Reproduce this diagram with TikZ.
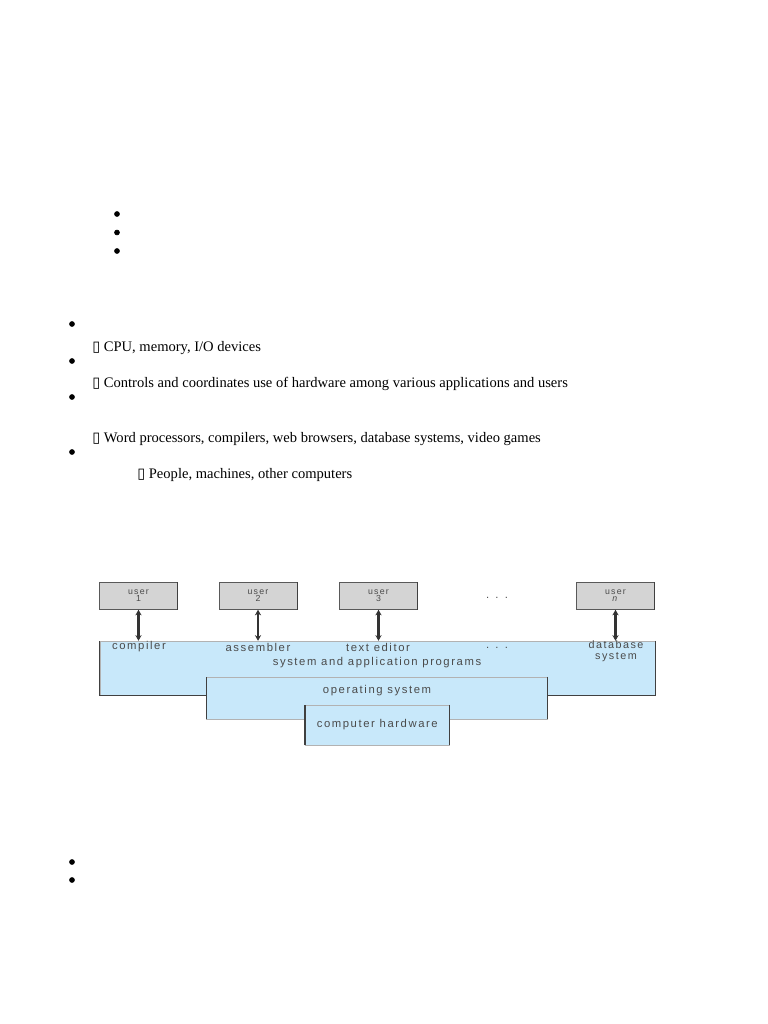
\documentclass[tikz,border=0pt]{standalone}
\usepackage{fontspec}
\setmainfont{Liberation Serif}
\newfontfamily\symfont{DejaVu Sans}
\newfontfamily\diagfont[LetterSpace=14]{Liberation Sans}
\usetikzlibrary{arrows.meta}
\newcommand{\pxu}{0.797pt}
\definecolor{boxblue}{RGB}{200,232,250}
\definecolor{boxgray}{RGB}{212,212,212}
\definecolor{labgray}{RGB}{75,75,75}

\begin{document}
\begin{tikzpicture}[x=0.797pt, y=-0.797pt,
  dot/.style={draw, circle, fill=black, minimum size=4pt, inner sep=0pt},
  line/.style={anchor=base west, inner sep=0pt, font=\fontsize{11.6}{14}\selectfont},
  userbox/.style={draw=gray!70!black, fill=boxgray, minimum width=78*\pxu, minimum height=27*\pxu, inner sep=0pt, align=center, text=labgray, font=\diagfont\fontsize{7}{5.6}\selectfont},
  layer/.style={draw=gray!60, fill=boxblue, inner sep=0pt},
  lab/.style={inner sep=0pt, align=center, text=labgray, font=\diagfont\fontsize{9}{7.2}\selectfont},
  edge/.style={black!75, line width=1.1pt},
  link/.style={{Stealth[length=4.5pt,width=5pt]}-{Stealth[length=4.5pt,width=5pt]}, line width=1.9pt, black!80}]
\useasboundingbox (0,0) rectangle (768,1024);

% top list
\node[dot] (B1) at (117,214) {};
\node[dot] (B2) at (117,232.5) {};
\node[dot] (B3) at (117,251) {};

\node[dot] (B4) at (72,324) {};
\node[dot] (B5) at (72,361) {};
\node[dot] (B6) at (72,397) {};
\node[dot] (B7) at (72,452) {};

\node[line] (T1) at (92,351) {{\symfont ▯} CPU, memory, I/O devices};
\node[line] (T2) at (92,387) {{\symfont ▯} Controls and coordinates use of hardware among various applications and users};
\node[line] (T3) at (92,442) {{\symfont ▯} Word processors, compilers, web browsers, database systems, video games};
\node[line] (T4) at (137,478) {{\symfont ▯} People, machines, other computers};

% layers
\node[layer, minimum width=555*\pxu, minimum height=54*\pxu] (Apps) at (377.5,668) {};
\node[layer, minimum width=341*\pxu, minimum height=42*\pxu] (OS) at (377,698) {};
\node[layer, minimum width=144*\pxu, minimum height=40*\pxu, text=labgray, font=\diagfont\fontsize{9}{6.5}\selectfont] (HW) at (377.3,725) {computer hardware};
\draw[edge] (Apps.north east) -- (Apps.south east) -- (OS.east |- Apps.south);
\draw[edge] (OS.west |- Apps.south) -- (Apps.south west) -- (Apps.north west);
\draw[edge] (OS.north east) -- (OS.south east);
\draw[edge] (OS.south west) -- (OS.north west);
\draw[edge] (HW.north east) -- (HW.south east);
\draw[edge] (HW.south west) -- (HW.north west);

\node[lab] (Title) at (377,663) {system and application programs};
\node[lab] (OSlab) at (377,691) {operating system};

% users
\node[userbox] (U1) at (138.5,596) {user\\1};
\node[userbox] (U2) at (258,596) {user\\2};
\node[userbox] (U3) at (378.5,596) {user\\3};
\node[userbox] (Un) at (615.5,596) {user\\\textit{n}};
\node[lab] (Udots) at (497,598) {. . .};
\foreach \u in {U1,U2,U3,Un}
  \draw[edge] (\u.north east) -- (\u.south east);

\node[lab] (P1) at (139,647) {compiler};
\node[lab] (P2) at (258,647) {assembler};
\node[lab] (P3) at (378,647) {text editor};
\node[lab] (Pdots) at (497,648) {. . .};
\node[lab, font=\diagfont\fontsize{8.6}{9}\selectfont] (Pn) at (616,651.5) {database\\system};

\foreach \u in {U1,U2,U3,Un}
  \draw[link] (\u.south) -- (\u.south |- Apps.north);

% bottom list
\node[dot] (B8) at (72,862) {};
\node[dot] (B9) at (72,880) {};
\end{tikzpicture}
\end{document}
